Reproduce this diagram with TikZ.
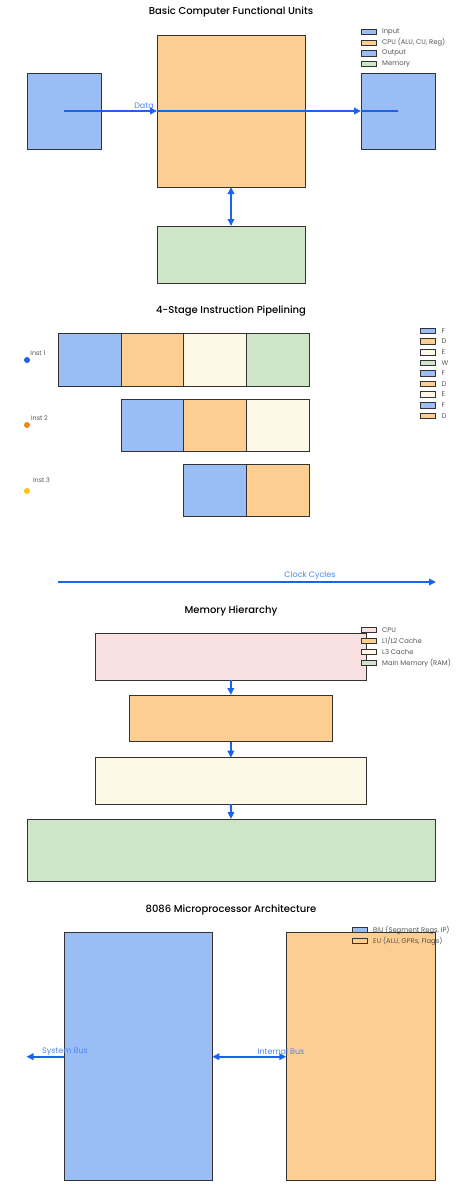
\documentclass[tikz,border=0pt]{standalone}
\usepackage{fontspec}
\setmainfont{Poppins}
\newfontfamily\titlefont{Poppins Medium}
\usetikzlibrary{arrows.meta}
\definecolor{cblue}{HTML}{9BBDF5}
\definecolor{corange}{HTML}{FDCE91}
\definecolor{cgreen}{HTML}{CFE5C8}
\definecolor{ccream}{HTML}{FEF8E6}
\definecolor{cpink}{HTML}{F8E0E0}
\definecolor{cedge}{HTML}{333333}
\definecolor{carrow}{HTML}{1A62F0}
\definecolor{clabel}{HTML}{4F86F0}
\definecolor{ctext}{HTML}{555555}
\definecolor{cdotor}{HTML}{F5840C}
\definecolor{cdotye}{HTML}{F7C40F}
\tikzset{
  unit/.style={draw=cedge, line width=1pt, inner sep=0pt, outer sep=0pt, anchor=north west},
  legbox/.style={draw=cedge, line width=0.9pt, inner sep=0pt, outer sep=0pt, minimum width=15pt, minimum height=5.5pt},
  legtxt/.style={text=ctext, font=\fontsize{6.8}{8}\selectfont, anchor=west, inner sep=0pt},
  ttl/.style={font=\titlefont\fontsize{10}{12}\selectfont, text=black},
  flow/.style={draw=carrow, line width=1.8pt, -{Triangle[length=7pt,width=6.5pt]}},
  flowbi/.style={draw=carrow, line width=1.8pt, {Triangle[length=7pt,width=6.5pt]}-{Triangle[length=7pt,width=6.5pt]}},
  flowplain/.style={draw=carrow, line width=1.8pt},
  blab/.style={text=clabel, font=\fontsize{8}{9}\selectfont, inner sep=0pt},
  ilab/.style={text=ctext, font=\fontsize{6.4}{7}\selectfont, inner sep=0pt},
  dot/.style={circle, inner sep=0pt, minimum size=6pt},
}
\begin{document}
\begin{tikzpicture}[x=1pt,y=-1pt]
\useasboundingbox[fill=white] (0,0) rectangle (462,1200);

% ---------- Section 1 ----------
\node[ttl] (t1) at (231,12) {Basic Computer Functional Units};
\node[unit, fill=cblue, minimum width=74pt, minimum height=76pt] (in) at (27,73) {};
\node[unit, fill=corange, minimum width=148pt, minimum height=152pt] (cpu) at (157,35) {};
\node[unit, fill=cblue, minimum width=74pt, minimum height=76pt] (out) at (361,73) {};
\node[unit, fill=cgreen, minimum width=148pt, minimum height=57pt] (mem) at (157,226) {};
\draw[flow] (in.center) -- (cpu.west);
\draw[flow] (cpu.west) -- (out.west);
\draw[flowplain] (out.west) -- (out.center);
\node[blab] (data) at (144,106) {Data};
\draw[flowbi] (cpu.south) -- (mem.north);
% legend 1
\foreach \i/\c/\t in {0/cblue/Input,1/corange/{CPU (ALU, CU, Reg)},2/cblue/Output,3/cgreen/Memory}{
  \node[legbox, fill=\c] (la\i) at (368.5,{32+10.7*\i}) {};
  \node[legtxt] (lta\i) at (382,{32+10.7*\i}) {\t};
}

% ---------- Section 2 ----------
\node[ttl] (t2) at (231,311.5) {4-Stage Instruction Pipelining};
\foreach \r/\y/\s/\cols in {1/333.5/0/{cblue,corange,ccream,cgreen},2/399/1/{cblue,corange,ccream},3/464/2/{cblue,corange}}{
  \foreach \c [count=\k from 0] in \cols {
    \node[unit, fill=\c, minimum width=62.75pt, minimum height=52.5pt] (p\r\k) at ({58.3+62.75*(\s+\k)},\y) {};
  }
}
\node[dot, fill=carrow] (d1) at (27,360) {};
\node[dot, fill=cdotor] (d2) at (27,425) {};
\node[dot, fill=cdotye] (d3) at (27,491) {};
\node[ilab] (i1) at (38,353) {Inst 1};
\node[ilab] (i2) at (39.5,418) {Inst 2};
\node[ilab] (i3) at (41.5,480) {Inst 3};
\coordinate (ck1) at (58,582);
\coordinate (ck2) at (436,582);
\draw[flow] (ck1) -- (ck2);
\node[blab] (ckl) at (310,576) {Clock Cycles};
% legend 2
\foreach \i/\c/\t in {0/cblue/F,1/corange/D,2/ccream/E,3/cgreen/W,4/cblue/F,5/corange/D,6/ccream/E,7/cblue/F,8/corange/D}{
  \node[legbox, fill=\c] (lb\i) at (427.5,{331+10.6*\i}) {};
  \node[legtxt] (ltb\i) at (441.5,{331+10.6*\i}) {\t};
}

% ---------- Section 3 ----------
\node[ttl] (t3) at (231,611) {Memory Hierarchy};
\node[unit, fill=cpink, minimum width=271.7pt, minimum height=47pt] (mcpu) at (95,633) {};
\node[unit, fill=corange, minimum width=203.7pt, minimum height=46.7pt] (ml1) at (129,695) {};
\node[unit, fill=ccream, minimum width=271.7pt, minimum height=46.3pt] (ml3) at (95,757.7) {};
\node[unit, fill=cgreen, minimum width=408pt, minimum height=62pt] (mram) at (27,819) {};
\draw[flow] (mcpu.south) -- (ml1.north);
\draw[flow] (ml1.south) -- (ml3.north);
\draw[flow] (ml3.south) -- (mram.north);
% legend 3
\foreach \i/\c/\t in {0/cpink/CPU,1/corange/{L1/L2 Cache},2/ccream/{L3 Cache},3/cgreen/{Main Memory (RAM)}}{
  \node[legbox, fill=\c] (lc\i) at (368.5,{630+10.9*\i}) {};
  \node[legtxt] (ltc\i) at (382,{630+10.9*\i}) {\t};
}

% ---------- Section 4 ----------
\node[ttl] (t4) at (231,910) {8086 Microprocessor Architecture};
\node[unit, fill=cblue, minimum width=148.3pt, minimum height=248pt] (biu) at (64,932.7) {};
\node[unit, fill=corange, minimum width=148.7pt, minimum height=248pt] (eu) at (286.3,932.7) {};
\coordinate (sb) at (26.5,1056.7);
\draw[flow] (biu.west) -- (sb);
\draw[flowbi] (biu.east) -- (eu.west);
\node[blab] (sbl) at (65,1051.5) {System Bus};
\node[blab] (ibl) at (281,1051.5) {Internal Bus};
% legend 4
\foreach \i/\c/\t in {0/cblue/{BIU (Segment Regs, IP)},1/corange/{EU (ALU, GPRs, Flags)}}{
  \node[legbox, fill=\c] (ld\i) at (360,{930+11*\i}) {};
  \node[legtxt] (ltd\i) at (373,{930+11*\i}) {\t};
}
\end{tikzpicture}
\end{document}
